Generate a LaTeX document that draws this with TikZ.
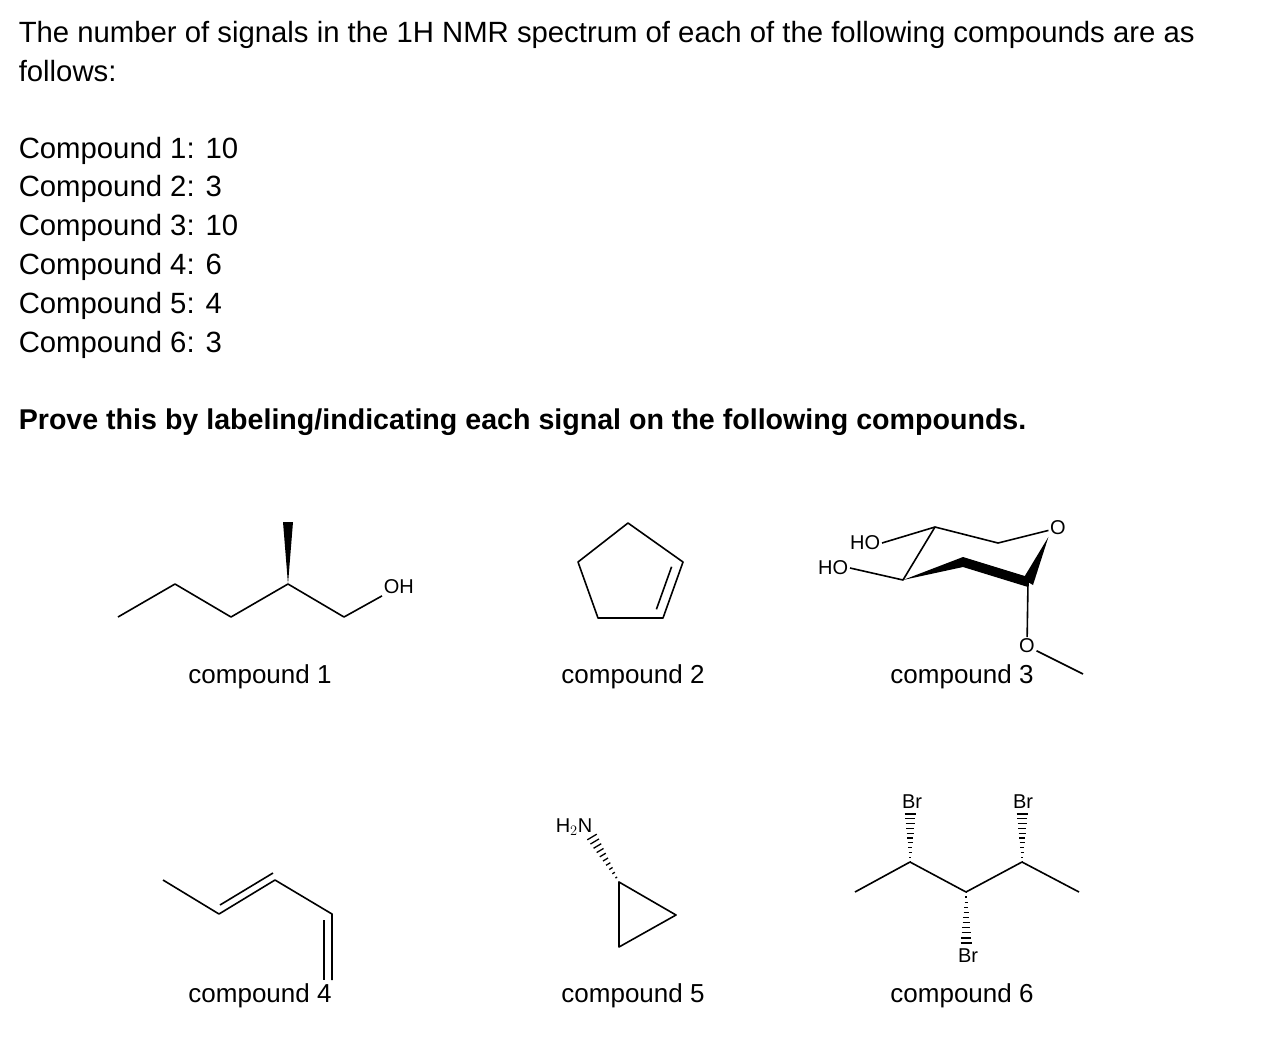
\documentclass[tikz,border=0pt]{standalone}
\usepackage{fontspec}
\setmainfont{Liberation Sans}
\usetikzlibrary{calc}
\begin{document}
\begin{tikzpicture}[x=1pt,y=-1pt,line width=1.6pt,line join=round,
  txt/.style={anchor=base west,inner sep=0,font=\fontsize{29.3}{34}\selectfont},
  lab/.style={anchor=base,inner sep=0,font=\fontsize{26}{30}\selectfont},
  atom/.style={inner sep=1pt,font=\fontsize{20}{23}\selectfont}]
\useasboundingbox (0,0) rectangle (1266,1058);
\fill[white] (0,0) rectangle (1266,1058);
% text
\node[txt] (t1) at (18,42) {The number of signals in the 1H NMR spectrum of each of the following compounds are as};
\node[txt] (t2) at (18,81) {follows:};
\foreach \i/\n [count=\k] in {1/10,2/3,3/10,4/6,5/4,6/3}
  \node[txt] (c\k) at (18,158+38.8*\k-38.8) {Compound \i: \n};
\node[txt,font=\fontsize{28.6}{32}\selectfont\bfseries] (pr) at (18,429) {Prove this by labeling/indicating each signal on the following compounds.};
% labels
\node[lab] (l1) at (260,683) {compound 1};
\node[lab] (l2) at (633,683) {compound 2};
\node[lab] (l3) at (962,683) {compound 3};
\node[lab] (l4) at (260,1002) {compound 4};
\node[lab] (l5) at (633,1002) {compound 5};
\node[lab] (l6) at (962,1002) {compound 6};
% compound 1
\coordinate (a1) at (118,617); \coordinate (a2) at (175,584); \coordinate (a3) at (231,617);
\coordinate (a4) at (288,584); \coordinate (a5) at (344,617);
\node[atom,anchor=west] (oh1) at (382,587) {OH};
\draw (a1)--(a2)--(a3)--(a4)--(a5)--(oh1.south west);
\fill (a4) -- (283,522) -- (293,522) -- cycle;
% compound 2
\coordinate (b1) at (628,523); \coordinate (b2) at (578,562); \coordinate (b3) at (598,618);
\coordinate (b4) at (663,618); \coordinate (b5) at (683,562);
\draw (b1)--(b2)--(b3)--(b4)--(b5)--cycle;
\draw ($(b5)!0.12!(b4)+(-9,-2)$) -- ($(b5)!0.88!(b4)+(-9,-2)$);
% compound 3
\coordinate (r4) at (935,527); \coordinate (r5) at (998,543); \coordinate (r1) at (1028,582);
\coordinate (r2) at (963,562); \coordinate (r3) at (903,580);
\node[atom] (ro) at (1058,528) {O};
\node[atom,anchor=east] (ho1) at (882,543) {HO};
\node[atom,anchor=east] (ho2) at (850,568) {HO};
\node[atom] (oo) at (1027,646) {O};
\draw (ho1.east)--(r4)--(r5)--(ro);
\draw (ho2.east)--(r3)--(r4);
\fill (r3) -- ($(r2)+(0,-5)$) -- ($(r2)+(0,5)$) -- cycle;
\fill ($(r2)+(0,-5)$) -- ($(r1)+(0,-5)$) -- ($(r1)+(0,5)$) -- ($(r2)+(0,5)$) -- cycle;
\fill (ro.south west) -- ($(r1)+(-5,-3)$) -- ($(r1)+(5,3)$) -- cycle;
\coordinate (me3) at (1083,674);
\draw (r1)--(oo)--(me3);
% compound 4
\coordinate (d1) at (163,880); \coordinate (d2) at (219,914); \coordinate (d3) at (275,880);
\coordinate (d4) at (332,914); \coordinate (d5) at (332,980);
\draw (d1)--(d2)--(d3)--(d4)--(d5);
\draw (220,905) -- (273,873);
\draw (324,920) -- (324,980);
% compound 5
\node[atom] (nh) at (574,827) {H$_2$N};
\coordinate (e1) at (619,882); \coordinate (e2) at (676,915); \coordinate (e3) at (619,947);
\coordinate (nb) at (592,837);
\draw (e1)--(e2)--(e3)--cycle;
\foreach \t in {0,0.1,...,1.01}{
  \coordinate (p) at ($(e1)!\t!(nb)$);
  \draw[line width=1.3pt] ($(p)!{(0.5+5*\t)*1pt}!90:(nb)$) -- ($(p)!{(0.5+5*\t)*1pt}!-90:(nb)$);
}
% compound 6
\coordinate (f1) at (855,892); \coordinate (f2) at (910,862); \coordinate (f3) at (966,892);
\coordinate (f4) at (1022,862); \coordinate (f5) at (1079,892);
\node[atom] (br1) at (912,802) {Br};
\node[atom] (br2) at (1023,802) {Br};
\node[atom] (br3) at (968,956) {Br};
\coordinate (g1) at (910,814); \coordinate (g2) at (1022,814); \coordinate (g3) at (966,943);
\draw (f1)--(f2)--(f3)--(f4)--(f5);
\foreach \c/\e in {f2/g1,f4/g2,f3/g3}{
  \foreach \t in {0,0.1,...,1.01}{
    \coordinate (p) at ($(\c)!\t!(\e)$);
    \draw[line width=1.3pt] ($(p)+({-0.5-5*\t},0)$) -- ($(p)+({0.5+5*\t},0)$);
  }
}
\end{tikzpicture}
\end{document}
